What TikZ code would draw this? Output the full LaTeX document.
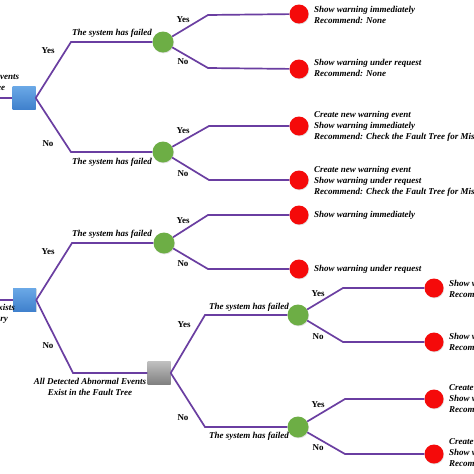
\documentclass[tikz,border=0pt]{standalone}
\usepackage{fontspec}
\setmainfont{Liberation Serif}
\usetikzlibrary{shadows}
\definecolor{linkc}{HTML}{6A3EA1}
\definecolor{greenc}{HTML}{6DAE45}
\definecolor{redc}{HTML}{F50A0A}
\definecolor{bluetop}{HTML}{6AA8E6}
\definecolor{bluebot}{HTML}{3F80CC}
\tikzset{
  link/.style={draw=linkc, line width=1.7pt},
  chance/.style={circle, minimum size=21pt, inner sep=0, fill=greenc, draw=none,
     drop shadow={opacity=0.25, shadow xshift=0.6pt, shadow yshift=-0.8pt}},
  leaf/.style={circle, minimum size=19pt, inner sep=0, fill=redc, draw=none,
     drop shadow={opacity=0.25, shadow xshift=0.6pt, shadow yshift=-0.8pt}},
  decision/.style={rectangle, minimum size=23pt, inner sep=0, draw=none,
     top color=bluetop, bottom color=bluebot,
     drop shadow={opacity=0.25, shadow xshift=0.6pt, shadow yshift=-0.8pt}},
  graybox/.style={rectangle, minimum size=23pt, inner sep=0, draw=none,
     top color=black!25, bottom color=black!50,
     drop shadow={opacity=0.25, shadow xshift=0.6pt, shadow yshift=-0.8pt}},
  yn/.style={font=\fontsize{9}{11}\selectfont\bfseries, inner sep=0},
  cond/.style={font=\fontsize{9}{11}\selectfont\bfseries\itshape, inner sep=0},
  outc/.style={font=\fontsize{9}{11}\selectfont\bfseries\itshape, inner sep=0, anchor=west, align=left},
}
\begin{document}
\begin{tikzpicture}[x=1pt,y=-1pt]
\useasboundingbox (0,0) rectangle (474,474);
\clip (0,0) rectangle (474,474);
\fill[white] (0,0) rectangle (474,474);

% ---------- top tree ----------
\coordinate (in1) at (-5,98);
\node[decision] (b1) at (24,98) {};
\draw[link] (in1) -- (b1);
\node[cond, align=center] (t1) at (-37,82) {All Detected Abnormal Events\\Exist in the Fault Tree};

\coordinate (k1) at (71,42);
\coordinate (k2) at (71,152);
\node[chance] (g1) at (163,42) {};
\node[chance] (g2) at (163,152) {};
\draw[link] (b1.east) -- (k1) -- (g1);
\draw[link] (b1.east) -- (k2) -- (g2);
\node[yn] (y1) at (48,51) {Yes};
\node[yn] (n1) at (48,144) {No};
\node[cond] (f1) at (112,33) {The system has failed};
\node[cond] (f2) at (112,162) {The system has failed};

\coordinate (k11) at (208,15);
\coordinate (k12) at (208,68);
\coordinate (k21) at (209,126);
\coordinate (k22) at (209,180);
\node[leaf] (r1) at (299,14) {};
\node[leaf] (r2) at (299,69) {};
\node[leaf] (r3) at (299,126) {};
\node[leaf] (r4) at (299,180) {};
\draw[link] (g1) -- (k11) -- (r1);
\draw[link] (g1) -- (k12) -- (r2);
\draw[link] (g2) -- (k21) -- (r3);
\draw[link] (g2) -- (k22) -- (r4);
\node[yn] (y11) at (183,20) {Yes};
\node[yn] (n12) at (183,62) {No};
\node[yn] (y21) at (183,131) {Yes};
\node[yn] (n22) at (183,174) {No};

\node[outc] (o1) at (314,14.5) {Show warning immediately\\Recommend: None};
\node[outc] (o2) at (314,67.5) {Show warning under request\\Recommend: None};
\node[outc] (o3) at (314,126) {Create new warning event\\Show warning immediately\\Recommend: Check the Fault Tree for Missing Events};
\node[outc] (o4) at (314,181) {Create new warning event\\Show warning under request\\Recommend: Check the Fault Tree for Missing Events};

% ---------- bottom tree ----------
\coordinate (in2) at (-5,300);
\node[decision] (b2) at (24.5,300) {};
\draw[link] (in2) -- (b2);
\node[cond, align=right, anchor=east] (t2) at (15,313.5) {An Abnormal Event Exists\\in the Library\hspace*{7pt}};

\coordinate (k3) at (72,243);
\coordinate (k4) at (73,373);
\node[chance] (g3) at (164,243) {};
\node[graybox] (s3) at (159,373) {};
\draw[link] (b2.east) -- (k3) -- (g3);
\draw[link] (b2.east) -- (k4) -- (s3);
\node[yn] (y3) at (48,252) {Yes};
\node[yn] (n3) at (48,346) {No};
\node[cond] (f3) at (112,234) {The system has failed};
\node[cond, align=center] (t3) at (90,386.5) {All Detected Abnormal Events\\Exist in the Fault Tree};

\coordinate (k31) at (208,215);
\coordinate (k32) at (208,269);
\node[leaf] (r5) at (299,215) {};
\node[leaf] (r6) at (299,269) {};
\draw[link] (g3) -- (k31) -- (r5);
\draw[link] (g3) -- (k32) -- (r6);
\node[yn] (y31) at (183,221) {Yes};
\node[yn] (n32) at (183,264) {No};
\node[outc] (o5) at (314,215) {Show warning immediately};
\node[outc] (o6) at (314,269) {Show warning under request};

\coordinate (k41) at (205,315);
\coordinate (k42) at (205,427);
\node[chance] (g4) at (298,315) {};
\node[chance] (g5) at (298,427) {};
\draw[link] (s3.east) -- (k41) -- (g4);
\draw[link] (s3.east) -- (k42) -- (g5);
\node[yn] (y41) at (184,325) {Yes};
\node[yn] (n42) at (183,418) {No};
\node[cond] (f4) at (249,307) {The system has failed};
\node[cond] (f5) at (249,436) {The system has failed};

\coordinate (k43) at (343,288);
\coordinate (k44) at (343,342);
\coordinate (k51) at (345,399);
\coordinate (k52) at (345,454);
\node[leaf] (r7) at (434,288) {};
\node[leaf] (r8) at (434,342) {};
\node[leaf] (r9) at (434,399) {};
\node[leaf] (r10) at (434,454) {};
\draw[link] (g4) -- (k43) -- (r7);
\draw[link] (g4) -- (k44) -- (r8);
\draw[link] (g5) -- (k51) -- (r9);
\draw[link] (g5) -- (k52) -- (r10);
\node[yn] (y43) at (318,294) {Yes};
\node[yn] (n44) at (318,337) {No};
\node[yn] (y51) at (318,405) {Yes};
\node[yn] (n52) at (318,448) {No};

\node[outc] (o7) at (449,288.5) {Show warning immediately\\Recommend: None};
\node[outc] (o8) at (449,342) {Show warning under request\\Recommend: None};
\node[outc] (o9) at (449,399) {Create new warning event\\Show warning immediately\\Recommend: Check the Fault Tree for Missing Events};
\node[outc] (o10) at (449,453.5) {Create new warning event\\Show warning under request\\Recommend: Check the Fault Tree for Missing Events};
\end{tikzpicture}
\end{document}
